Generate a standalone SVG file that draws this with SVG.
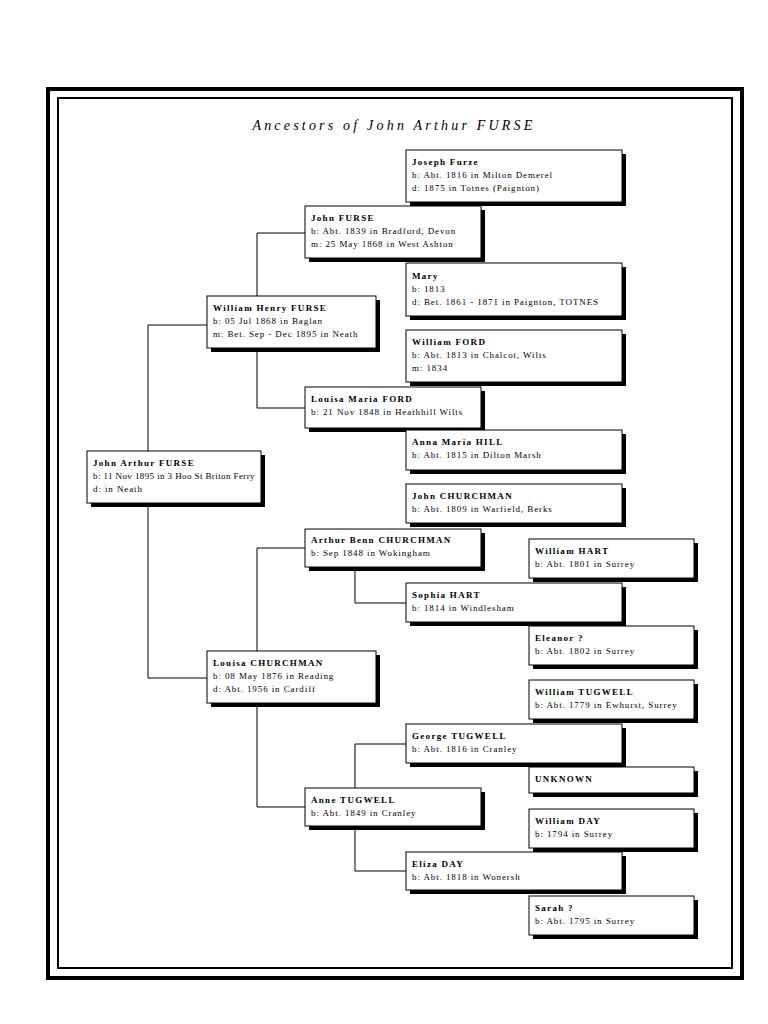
<svg xmlns="http://www.w3.org/2000/svg" width="768" height="1024" viewBox="0 0 768 1024">
<style>
.sh{fill:#000}
.bx{fill:#fff;stroke:#000;stroke-width:1}
text{font-family:"Liberation Serif",serif;font-size:9px;letter-spacing:0.9px;fill:#000}
.n{font-weight:bold;font-size:9px;letter-spacing:1.3px}
.tight{letter-spacing:0.4px}
.c line,.c path{stroke:#000;stroke-width:1;fill:none}
.t{font-style:italic;font-size:14px;letter-spacing:3.2px}
</style>
<rect width="768" height="1024" fill="#fff"/>
<rect x="48" y="89" width="694" height="889" fill="none" stroke="#000" stroke-width="4"/>
<rect x="58" y="98" width="674" height="870" fill="none" stroke="#000" stroke-width="2"/>
<text class="t" x="394" y="130" text-anchor="middle">Ancestors of John Arthur FURSE</text>
<g class="c" id="connectors">
<path d="M207 325H148V678H207"/>
<path d="M305 233H257V408H305"/>
<path d="M305 548H257V807H305"/>
<path d="M355 567V603H406"/>
<path d="M406 744H355V871H406"/>
</g>
<g id="n1"><rect class="sh" x="410" y="154" width="216" height="52"/><rect class="bx" x="406" y="150" width="216" height="52"/><text x="412" y="165" class="n">Joseph Furze</text><text x="412" y="178">b: Abt. 1816 in Milton Demerel</text><text x="412" y="191">d: 1875 in Totnes (Paignton)</text></g>
<g id="n2"><rect class="sh" x="309" y="210" width="176" height="52"/><rect class="bx" x="305" y="206" width="176" height="52"/><text x="311" y="221" class="n">John FURSE</text><text x="311" y="234">b: Abt. 1839 in Bradford, Devon</text><text x="311" y="247">m: 25 May 1868 in West Ashton</text></g>
<g id="n3"><rect class="sh" x="410" y="267" width="216" height="53"/><rect class="bx" x="406" y="263" width="216" height="53"/><text x="412" y="279" class="n">Mary</text><text x="412" y="292">b: 1813</text><text x="412" y="305">d: Bet. 1861 - 1871 in Paignton, TOTNES</text></g>
<g id="n4"><rect class="sh" x="211" y="300" width="169" height="52"/><rect class="bx" x="207" y="296" width="169" height="52"/><text x="213" y="311" class="n">William Henry FURSE</text><text x="213" y="324">b: 05 Jul 1868 in Baglan</text><text x="213" y="337">m: Bet. Sep - Dec 1895 in Neath</text></g>
<g id="n5"><rect class="sh" x="410" y="334" width="216" height="52"/><rect class="bx" x="406" y="330" width="216" height="52"/><text x="412" y="345" class="n">William FORD</text><text x="412" y="358">b: Abt. 1813 in Chalcot, Wilts</text><text x="412" y="371">m: 1834</text></g>
<g id="n6"><rect class="sh" x="309" y="391" width="176" height="41"/><rect class="bx" x="305" y="387" width="176" height="41"/><text x="311" y="402" class="n">Louisa Maria FORD</text><text x="311" y="415">b: 21 Nov 1848 in Heathhill Wilts</text></g>
<g id="n7"><rect class="sh" x="410" y="434" width="216" height="40"/><rect class="bx" x="406" y="430" width="216" height="40"/><text x="412" y="445" class="n">Anna Maria HILL</text><text x="412" y="458">b: Abt. 1815 in Dilton Marsh</text></g>
<g id="n8"><rect class="sh" x="91" y="455" width="174" height="52"/><rect class="bx" x="87" y="451" width="174" height="52"/><text x="93" y="466" class="n">John Arthur FURSE</text><text x="93" y="479" class="tight">b: 11 Nov 1895 in 3 Hoo St Briton Ferry</text><text x="93" y="492">d: in Neath</text></g>
<g id="n9"><rect class="sh" x="410" y="488" width="216" height="39"/><rect class="bx" x="406" y="484" width="216" height="39"/><text x="412" y="499" class="n">John CHURCHMAN</text><text x="412" y="512">b: Abt. 1809 in Warfield, Berks</text></g>
<g id="n10"><rect class="sh" x="309" y="533" width="176" height="38"/><rect class="bx" x="305" y="529" width="176" height="38"/><text x="311" y="543" class="n">Arthur Benn CHURCHMAN</text><text x="311" y="556">b: Sep 1848 in Wokingham</text></g>
<g id="n11"><rect class="sh" x="533" y="543" width="165" height="39"/><rect class="bx" x="529" y="539" width="165" height="39"/><text x="535" y="554" class="n">William HART</text><text x="535" y="567">b: Abt. 1801 in Surrey</text></g>
<g id="n12"><rect class="sh" x="410" y="587" width="216" height="39"/><rect class="bx" x="406" y="583" width="216" height="39"/><text x="412" y="598" class="n">Sophia HART</text><text x="412" y="611">b: 1814 in Windlesham</text></g>
<g id="n13"><rect class="sh" x="533" y="630" width="165" height="39"/><rect class="bx" x="529" y="626" width="165" height="39"/><text x="535" y="641" class="n">Eleanor ?</text><text x="535" y="654">b: Abt. 1802 in Surrey</text></g>
<g id="n14"><rect class="sh" x="211" y="655" width="169" height="52"/><rect class="bx" x="207" y="651" width="169" height="52"/><text x="213" y="666" class="n">Louisa CHURCHMAN</text><text x="213" y="679">b: 08 May 1876 in Reading</text><text x="213" y="692">d: Abt. 1956 in Cardiff</text></g>
<g id="n15"><rect class="sh" x="533" y="684" width="165" height="39"/><rect class="bx" x="529" y="680" width="165" height="39"/><text x="535" y="695" class="n">William TUGWELL</text><text x="535" y="708">b: Abt. 1779 in Ewhurst, Surrey</text></g>
<g id="n16"><rect class="sh" x="410" y="728" width="216" height="39"/><rect class="bx" x="406" y="724" width="216" height="39"/><text x="412" y="739" class="n">George TUGWELL</text><text x="412" y="752">b: Abt. 1816 in Cranley</text></g>
<g id="n17"><rect class="sh" x="533" y="771" width="165" height="26"/><rect class="bx" x="529" y="767" width="165" height="26"/><text x="535" y="782" class="n">UNKNOWN</text></g>
<g id="n18"><rect class="sh" x="309" y="792" width="176" height="38"/><rect class="bx" x="305" y="788" width="176" height="38"/><text x="311" y="803" class="n">Anne TUGWELL</text><text x="311" y="816">b: Abt. 1849 in Cranley</text></g>
<g id="n19"><rect class="sh" x="533" y="813" width="165" height="39"/><rect class="bx" x="529" y="809" width="165" height="39"/><text x="535" y="824" class="n">William DAY</text><text x="535" y="837">b: 1794 in Surrey</text></g>
<g id="n20"><rect class="sh" x="410" y="856" width="216" height="38"/><rect class="bx" x="406" y="852" width="216" height="38"/><text x="412" y="867" class="n">Eliza DAY</text><text x="412" y="880">b: Abt. 1818 in Wonersh</text></g>
<g id="n21"><rect class="sh" x="533" y="900" width="165" height="39"/><rect class="bx" x="529" y="896" width="165" height="39"/><text x="535" y="911" class="n">Sarah ?</text><text x="535" y="924">b: Abt. 1795 in Surrey</text></g>
</svg>
